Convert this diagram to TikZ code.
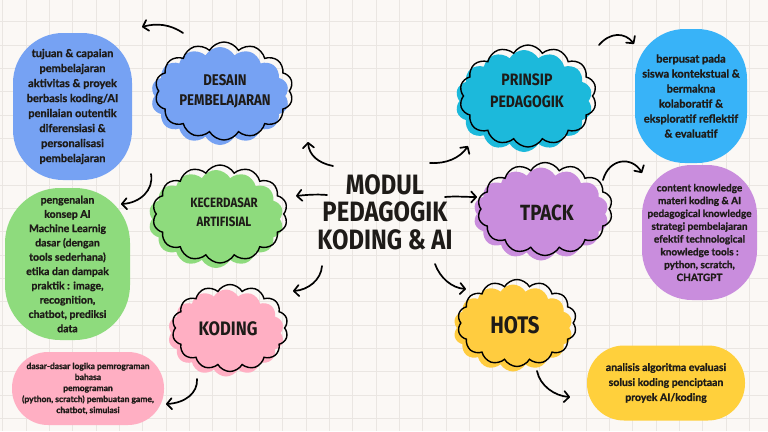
\documentclass[tikz,border=0pt]{standalone}
\usepackage{fontspec}
\setmainfont{Lato}[BoldFeatures={FakeBold=1.2}]
\newfontfamily\hand[FakeStretch=0.85]{Fira Sans}
\usetikzlibrary{shapes.symbols,arrows.meta}
\definecolor{bg}{HTML}{FBF8F5}
\definecolor{gridc}{HTML}{EAE6E2}
\definecolor{txt}{HTML}{1E1B18}
\definecolor{cblue}{HTML}{76A2F3}
\definecolor{cgreen}{HTML}{8EDB7D}
\definecolor{cpink}{HTML}{FFAFC3}
\definecolor{ccyan}{HTML}{1CB9DB}
\definecolor{bcyan}{HTML}{38B3F8}
\definecolor{cpurple}{HTML}{C98DDD}
\definecolor{cyellow}{HTML}{FFCC3F}
\definecolor{byellow}{HTML}{FFD03C}
\tikzset{
  cloudbase/.style={cloud, cloud puffs=14, cloud puff arc=120, inner sep=0pt},
  cloudfill/.style={cloudbase, draw=none},
  cloudline/.style={cloudbase, draw=black, line width=1.4pt},
  cloudtext/.style={align=center, text=txt, inner sep=0pt},
  boxbase/.style={rectangle, inner sep=0pt, align=center, text=txt},
  arr/.style={line width=1.7pt, line cap=round, black,
    -{Straight Barb[length=5pt,width=11pt,round]}},
}
\begin{document}
\begin{tikzpicture}[x=1pt,y=-1pt]
\fill[bg] (0,0) rectangle (768,431);
\useasboundingbox (0,0) rectangle (768,431);
\foreach \i in {0,...,33} \draw[gridc, line width=0.8pt] ({2.7+23.33*\i},0) -- ++(0,431);
\foreach \j in {0,...,19} \draw[gridc, line width=0.8pt] (0,{-1.6+23.33*\j}) -- ++(768,0);

% ---------- text boxes ----------
\node[boxbase, fill=cblue, minimum width=119, minimum height=147, rounded corners=50pt,
  font=\bfseries\fontsize{11}{15}\selectfont] (bbox) at (72.5,106.5)
  {tujuan \& capaian\\pembelajaran\\aktivitas \& proyek\\berbasis koding/AI\\penilaian outentik\\diferensiasi \&\\personalisasi\\pembelajaran};
\node[boxbase, fill=cgreen, minimum width=125, minimum height=152, rounded corners=55pt,
  font=\bfseries\fontsize{10.5}{14.3}\selectfont] (gbox) at (67.5,264)
  {pengenalan\\konsep AI\\Machine Learnig\\dasar (dengan\\tools sederhana)\\etika dan dampak\\praktik : image,\\recognition,\\chatbot, prediksi\\data};
\node[boxbase, fill=cpink, minimum width=152, minimum height=73, rounded corners=36pt,
  font=\bfseries\fontsize{8.5}{11}\selectfont] (pbox) at (88,388.5)
  {dasar-dasar logika pemrograman\\bahasa\\pemograman\\(python, scratch) pembuatan game,\\chatbot, simulasi};
\node[boxbase, fill=bcyan, minimum width=112, minimum height=134, rounded corners=50pt,
  font=\bfseries\fontsize{11}{15}\selectfont] (cbox) at (691,96)
  {berpusat pada\\siswa kontekstual \&\\bermakna\\kolaboratif \&\\eksploratif reflektif\\\& evaluatif};
\node[boxbase, fill=cpurple, minimum width=115, minimum height=135, rounded corners=50pt,
  font=\bfseries\fontsize{10}{12.8}\selectfont] (ubox) at (699.5,232.5)
  {content knowledge\\materi koding \& AI\\pedagogical knowledge\\strategi pembelajaran\\efektif technological\\knowledge tools :\\python, scratch,\\CHATGPT};
\node[boxbase, fill=byellow, minimum width=158, minimum height=75, rounded corners=37pt,
  font=\bfseries\fontsize{10.5}{15}\selectfont] (ybox) at (666,383)
  {analisis algoritma evaluasi\\solusi koding penciptaan\\proyek AI/koding};

% ---------- clouds ----------
\node[cloudfill, fill=cblue, minimum width=138, minimum height=98, aspect=1.4] (desainf) at (220,96) {};
\node[cloudline, minimum width=138, minimum height=98, aspect=1.4] (desain) at (224,91) {};
\node[cloudtext, font=\hand\bfseries\fontsize{15.5}{20}\selectfont] (desaint) at (225,91) {DESAIN\\PEMBELAJARAN};

\node[cloudfill, fill=cgreen, minimum width=135, minimum height=98, aspect=1.38] (kecf) at (216,219) {};
\node[cloudline, minimum width=135, minimum height=98, aspect=1.38] (kec) at (220,214) {};
\node[cloudtext, font=\hand\bfseries\fontsize{13.5}{19}\selectfont] (kect) at (224,212) {KECERDASAR\\ARTIFISIAL};

\node[cloudfill, fill=cpink, minimum width=116, minimum height=87, aspect=1.33] (kodf) at (226,333) {};
\node[cloudline, minimum width=116, minimum height=87, aspect=1.33] (kod) at (230,328) {};
\node[cloudtext, font=\hand\bfseries\fontsize{19.5}{22}\selectfont] (kodt) at (228,329) {KODING};

\node[cloudfill, fill=ccyan, minimum width=137, minimum height=102, aspect=1.34] (prif) at (524,101) {};
\node[cloudline, minimum width=137, minimum height=102, aspect=1.34] (pri) at (528,96) {};
\node[cloudtext, font=\hand\bfseries\fontsize{16.5}{21.5}\selectfont] (prit) at (527,91) {PRINSIP\\PEDAGOGIK};

\node[cloudfill, fill=cpurple, minimum width=135, minimum height=93, aspect=1.45] (tpf) at (541,214) {};
\node[cloudline, minimum width=135, minimum height=93, aspect=1.45] (tp) at (545,209) {};
\node[cloudtext, font=\hand\bfseries\fontsize{22}{24}\selectfont] (tpt) at (547,213) {TPACK};

\node[cloudfill, fill=cyellow, minimum width=119, minimum height=87, aspect=1.37] (hof) at (513,328) {};
\node[cloudline, minimum width=119, minimum height=87, aspect=1.37] (ho) at (517,323) {};
\node[cloudtext, font=\hand\bfseries\fontsize{24}{26}\selectfont] (hot) at (515,325) {HOTS};

% ---------- centre title ----------
\node[cloudtext, font=\hand\bfseries\fontsize{28}{27.5}\selectfont] (ctr) at (385,212) {MODUL\\PEDAGOGIK\\KODING \& AI};

% ---------- connector end points ----------
\coordinate (a1s) at (183,33);  \coordinate (a1e) at (142,27);
\coordinate (a2s) at (151,174); \coordinate (a2e) at (121,204);
\coordinate (a3s) at (333,166); \coordinate (a3e) at (308,142);
\coordinate (a4s) at (430,163); \coordinate (a4e) at (468,146);
\coordinate (a5s) at (445,197); \coordinate (a5e) at (477,197);
\coordinate (a6s) at (435,264); \coordinate (a6e) at (466,289);
\coordinate (a7s) at (322,266); \coordinate (a7e) at (293,291);
\coordinate (a8s) at (197,379); \coordinate (a8e) at (166,404);
\coordinate (a9s) at (537,371); \coordinate (a9e) at (570,397);
\coordinate (a10s) at (603,180); \coordinate (a10e) at (642,173);
\coordinate (a11s) at (599,45); \coordinate (a11e) at (634,44);
\coordinate (a12s) at (327,195); \coordinate (a12e) at (296,196);

\draw[arr] (a1s) .. controls (170,24) and (156,23) .. (a1e);
\draw[arr] (a2s) .. controls (154,190) and (140,203) .. (a2e);
\draw[arr] (a3s) .. controls (318,163) and (309,155) .. (a3e);
\draw[arr] (a4s) .. controls (446,164) and (460,158) .. (a4e);
\draw[arr] (a5s) .. controls (455,196) and (466,197) .. (a5e);
\draw[arr] (a6s) .. controls (440,278) and (452,288) .. (a6e);
\draw[arr] (a7s) .. controls (321,280) and (308,290) .. (a7e);
\draw[arr] (a8s) .. controls (198,393) and (185,403) .. (a8e);
\draw[arr] (a9s) .. controls (540,386) and (555,396) .. (a9e);
\draw[arr] (a10s) .. controls (609,158) and (632,156) .. (a10e);
\draw[arr] (a11s) .. controls (610,32) and (625,32) .. (a11e);
\draw[arr] (a12s) .. controls (316,194) and (305,195) .. (a12e);
\end{tikzpicture}
\end{document}
